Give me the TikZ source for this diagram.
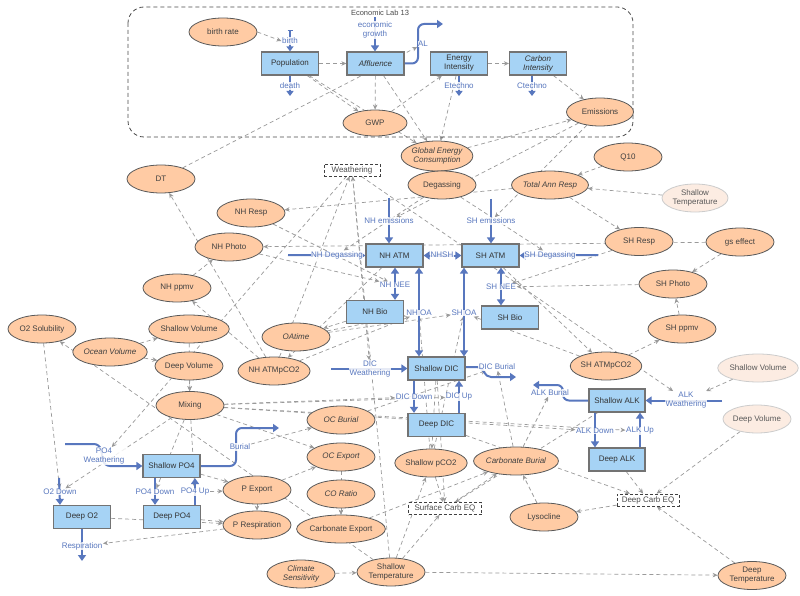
\documentclass[tikz,border=0pt]{standalone}
\usepackage{fontspec}
\setmainfont{Liberation Sans}
\usetikzlibrary{shapes.geometric,arrows.meta,calc}
\definecolor{peach}{HTML}{FFCBA4}
\definecolor{boxblue}{HTML}{A6D3F5}
\definecolor{flowblue}{HTML}{5877BE}
\definecolor{dgrey}{HTML}{9A9A9A}
\definecolor{fadefill}{HTML}{FCECE2}
\pgfdeclarelayer{bg}
\pgfdeclarelayer{mid}
\pgfsetlayers{bg,mid,main}
\tikzset{
 var/.style={ellipse, draw=black!65, fill=peach, minimum width=68pt, minimum height=28pt, inner sep=0pt,
   font=\fontsize{8}{9}\selectfont, text=black!75, align=center, line width=0.8pt},
 itvar/.style={var, font=\fontsize{8}{9}\selectfont\itshape},
 fadevar/.style={var, draw=black!20, fill=fadefill, text=black!65},
 stock/.style={rectangle, draw=black!55, fill=boxblue, minimum width=57pt, minimum height=23pt, inner sep=0pt,
   font=\fontsize{8}{9}\selectfont, text=black!80, line width=1.2pt, align=center},
 ghost/.style={rectangle, draw=black!75, dash pattern=on 3pt off 2pt, fill=white, inner sep=0pt, minimum height=12pt,
   font=\fontsize{8}{9}\selectfont, text=black!70, line width=0.8pt},
 link/.style={draw=dgrey, dash pattern=on 4pt off 3pt, line width=0.7pt, -{Stealth[length=5pt,width=4.5pt]}},
 flow/.style={draw=flowblue, line width=2pt, -{Triangle[length=6pt,width=8pt]}},
 tflow/.style={draw=flowblue, line width=1.5pt, -{Triangle[length=5pt,width=7pt]}},
 dflow/.style={draw=flowblue, line width=2pt, {Triangle[length=6pt,width=8pt]}-{Triangle[length=6pt,width=8pt]}},
 flabel/.style={text=flowblue, font=\fontsize{8}{9}\selectfont, fill=white, fill opacity=0.85, text opacity=1,
   inner sep=0.6pt, align=center},
}
\begin{document}
\begin{tikzpicture}[x=1pt,y=-1pt]
\useasboundingbox (0,0) rectangle (800,596);
\begin{pgfonlayer}{bg}
\fill[white] (0,0) rectangle (800,596);
\end{pgfonlayer}
% economic sub-model frame
\draw[draw=black!70, dash pattern=on 4pt off 3pt, line width=0.8pt, rounded corners=16pt] (128,7) rectangle (633,137);
\node[font=\fontsize{7.5}{8}\selectfont, fill=white, inner sep=1pt, text=black!70] (econlab) at (380,13) {Economic Lab 13};

% ---------- nodes ----------
\node[var] (br) at (223,32) {birth rate};
\node[stock] (pop) at (290,63.5) {Population};
\node[stock, font=\fontsize{8}{9}\selectfont\itshape] (aff) at (375.5,63.5) {Affluence};
\node[stock] (ei) at (459,63.5) {Energy\\Intensity};
\node[stock, font=\fontsize{8}{9}\selectfont\itshape] (ci) at (538,63.5) {Carbon\\Intensity};
\node[var, minimum width=64pt, minimum height=26pt] (gwp) at (375,123) {GWP};
\node[var, minimum width=67pt] (em) at (600,112) {Emissions};
\node[itvar, minimum width=70pt, minimum height=30pt] (gec) at (437,156) {Global Energy\\Consumption};
\node[var] (deg) at (442,185) {Degassing};
\node[itvar, minimum width=70pt] (tar) at (550,185) {Total Ann Resp};
\node[var] (q10) at (628,157) {Q10};
\node[fadevar, minimum width=66pt] (stT) at (695,198) {Shallow\\Temperature};
\node[ghost, minimum width=56pt] (wea) at (352,170) {Weathering};
\node[var] (dt) at (161,179) {DT};
\node[var] (nhr) at (251,213) {NH Resp};
\node[var] (nhp) at (229,247) {NH Photo};
\node[stock] (nhatm) at (394.5,255.5) {NH ATM};
\node[stock] (shatm) at (490.5,255.5) {SH ATM};
\node[stock] (nhbio) at (375,312) {NH Bio};
\node[stock] (shbio) at (510,317.5) {SH Bio};
\node[stock] (sdic) at (436.5,368.5) {Shallow DIC};
\node[stock] (ddic) at (436.5,425) {Deep DIC};
\node[stock, minimum width=56pt] (salk) at (617,400.5) {Shallow ALK};
\node[stock, minimum width=56pt] (dalk) at (617,459.5) {Deep ALK};
\node[fadevar] (svR) at (758,368) {Shallow Volume};
\node[fadevar] (dvR) at (757,419) {Deep Volume};
\node[ghost, minimum width=62pt] (dceq) at (648,500) {Deep Carb EQ};
\node[var] (dtemp) at (752,575.5) {Deep\\Temperature};
\node[var] (lyso) at (544,517) {Lysocline};
\node[itvar] (cb) at (516,461) {Carbonate Burial};
\node[var] (spco2) at (431,463) {Shallow pCO2};
\node[ghost, minimum width=73pt] (sceq) at (445,508.5) {Surface Carb EQ};
\node[var] (stemp) at (391,572) {Shallow\\Temperature};
\node[itvar] (cs) at (301,574) {Climate\\Sensitivity};
\node[var] (cex) at (341,529) {Carbonate Export};
\node[itvar] (cor) at (341,494) {CO Ratio};
\node[itvar] (ocex) at (341,457) {OC Export};
\node[itvar] (ocb) at (341,420) {OC Burial};
\node[var] (pex) at (257,490) {P Export};
\node[var] (pres) at (257,525) {P Respiration};
\node[stock] (spo4) at (171.5,466) {Shallow PO4};
\node[stock] (dpo4) at (172,517) {Deep PO4};
\node[stock] (do2) at (82,517) {Deep O2};
\node[var] (mix) at (190,405.5) {Mixing};
\node[var] (o2s) at (42,329) {O2 Solubility};
\node[itvar] (ov) at (110,352) {Ocean Volume};
\node[var] (svL) at (189,329) {Shallow Volume};
\node[var] (dvL) at (189,366) {Deep Volume};
\node[var] (nhppmv) at (177,288) {NH ppmv};
\node[var] (nhpco2) at (274,371) {NH ATMpCO2};
\node[itvar] (oat) at (296,337) {OAtime};
\node[var] (shr) at (639,241.5) {SH Resp};
\node[var] (gse) at (740,242) {gs effect};
\node[var] (shp) at (673,284) {SH Photo};
\node[var] (shppmv) at (682,329) {SH ppmv};
\node[var] (shpco2) at (606,366) {SH ATMpCO2};

% ---------- flow labels ----------
\node[flabel] (birth) at (290,41) {birth};
\node[flabel] (death) at (290,86) {death};
\node[flabel] (egr) at (375,30) {economic\\growth};
\node[flabel] (al) at (423,44) {AL};
\node[flabel] (etech) at (459,86) {Etechno};
\node[flabel] (ctech) at (532,86) {Ctechno};
\node[flabel] (nhemi) at (389,221) {NH emissions};
\node[flabel] (shemi) at (491,221) {SH emissions};
\node[flabel] (nhdeg) at (337,255) {NH Degassing};
\node[flabel] (shdeg) at (550,255) {SH Degassing};
\node[flabel] (nhsh) at (442,255) {NHSH};
\node[flabel] (nhnee) at (395,285) {NH NEE};
\node[flabel] (shnee) at (501,287) {SH NEE};
\node[flabel] (nhoa) at (419,313) {NH OA};
\node[flabel] (shoa) at (464,313) {SH OA};
\node[flabel] (dicw) at (370,369) {DIC\\Weathering};
\node[flabel] (dicb) at (497,367) {DIC Burial};
\node[flabel] (dicd) at (414,397) {DIC Down};
\node[flabel] (dicu) at (459,397) {DIC Up};
\node[flabel] (alkb) at (550,393) {ALK Burial};
\node[flabel] (alkw) at (686,400) {ALK\\Weathering};
\node[flabel] (alkd) at (595,431) {ALK Down};
\node[flabel] (alku) at (640,431) {ALK Up};
\node[flabel] (po4w) at (104,456) {PO4\\Weathering};
\node[flabel] (burial) at (240,447) {Burial};
\node[flabel] (o2d) at (60,492) {O2 Down};
\node[flabel] (resp) at (82,546) {Respiration};
\node[flabel] (po4d) at (155,492) {PO4 Down};
\node[flabel] (po4u) at (195,492) {PO4 Up};

% ---------- flows ----------
\begin{pgfonlayer}{mid}
\draw[tflow, {Bar[width=5pt]}-{Triangle[length=5pt,width=7pt]}] (290,30) -- (birth |- pop.north);
\draw[tflow] (death |- pop.south) -- (290,96);
\draw[flow] (375,17) -- (egr |- aff.north);
\draw[flow, rounded corners=6pt] (aff.east) -- (418,63.5) -- (418,24) -- (443,24);
\draw[tflow] (etech |- ei.south) -- (459,96);
\draw[tflow] (ctech |- ci.south) -- (532,96);
\draw[flow] (389,198) -- (nhemi |- nhatm.north);
\draw[flow] (491,199) -- (shemi |- shatm.north);
\draw[flow] (288,255) -- (nhatm.west);
\draw[flow] (598,255) -- (shatm.east);
\draw[dflow] (nhatm.east) -- (shatm.west);
\draw[dflow] (nhnee |- nhatm.south) -- (nhnee |- nhbio.north);
\draw[dflow] (shnee |- shatm.south) -- (shnee |- shbio.north);
\draw[dflow] (nhoa |- nhatm.south) -- (nhoa |- sdic.north);
\draw[dflow] (shoa |- shatm.south) -- (shoa |- sdic.north);
\draw[flow] (331,368.5) -- (sdic.west);
\draw[flow, rounded corners=5pt] (sdic.east |- dicb) -- (482,367) -- (486,377) -- (516,377);
\draw[flow] (dicd |- sdic.south) -- (dicd |- ddic.north);
\draw[flow] (dicu |- ddic.north) -- (dicu |- sdic.south);
\draw[flow, rounded corners=6pt] (salk.west) -- (563,400.5) -- (563,385) -- (533,385);
\draw[flow] (722,400.5) -- (salk.east);
\draw[flow] (alkd |- salk.south) -- (alkd |- dalk.north);
\draw[flow] (alku |- dalk.north) -- (alku |- salk.south);
\draw[flow, rounded corners=6pt] (65,444) -- (100,444) -- (104,466) -- (spo4.west);
\draw[flow, rounded corners=6pt] (spo4.east) -- (236,466) -- (236,428) -- (279,428);
\draw[flow] (59,478) -- (o2d |- do2.north);
\draw[flow] (do2.south) -- (82,561);
\draw[flow] (po4d |- spo4.south) -- (po4d |- dpo4.north);
\draw[flow] (po4u |- dpo4.north) -- (po4u |- spo4.south);
\end{pgfonlayer}

% ---------- links ----------
\begin{pgfonlayer}{bg}
\draw[link] (br.east) -- (birth.west);
\draw[link] (pop) -- (aff);
\draw[link] (pop) -- (gwp);
\draw[link] (aff) -- (gwp);
\draw[link] (aff) -- (gec);
\draw[link] (pop) -- (gec);
\draw[link] (gwp) -- (ei);
\draw[link] (ei) -- (ci);
\draw[link] (ei) -- (gec);
\draw[link] (ci) -- (em);
\draw[link] (gec) -- (em);
\draw[link] (dt) -- (al);
\draw[link] (em) -- (nhemi);
\draw[link] (em) -- (shemi);
\draw[link] (deg) -- (nhdeg);
\draw[link] (deg) -- (shdeg);
\draw[link] (tar) -- (nhr);
\draw[link] (tar) -- (shr);
\draw[link] (q10) -- (tar);
\draw[link] (stT) -- (tar);
\draw[link] (nhpco2) -- (wea);
\draw[link] (stemp) -- (wea);
\draw[link] (wea) -- (dicw);
\draw[link] (wea) -- (alkw);
\draw[link] (wea) -- (po4w);
\draw[link] (nhppmv) -- (nhp);
\draw[link] (nhpco2) -- (nhppmv);
\draw[link] (nhp) -- (nhnee);
\draw[link] (nhr) -- (nhnee);
\draw[link] (gse) -- (nhp);
\draw[link] (gse) -- (shp);
\draw[link] (nhpco2) -- (nhoa);
\draw[link] (oat) -- (nhoa);
\draw[link] (oat) -- (shoa);
\draw[link] (spco2) -- (nhoa);
\draw[link] (spco2) -- (shoa);
\draw[link] (shpco2) -- (shoa);
\draw[link] (shatm) -- (shpco2);
\draw[link] (nhatm) -- (nhpco2);
\draw[link] (shpco2) -- (shppmv);
\draw[link] (shppmv) -- (shp);
\draw[link] (shp) -- (shnee);
\draw[link] (shr) -- (shnee);
\draw[link] (svR) -- (alkw);
\draw[link] (nhpco2) -- (dt);
\draw[link] (ov) -- (svL);
\draw[link] (ov) -- (dvL);
\draw[link] (stemp) -- (o2s);
\draw[link] (o2s) -- (o2d);
\draw[link] (dvL) -- (mix);
\draw[link] (svL) -- (mix);
\draw[link] (mix) -- (o2d);
\draw[link] (mix) -- (po4d);
\draw[link] (mix) -- (po4u);
\draw[link] (mix) -- (dicd);
\draw[link] (mix) -- (dicu);
\draw[link] (mix) -- (alkd);
\draw[link] (mix) -- (alku);
\draw[link] (spo4) -- (pex);
\draw[link] (po4u) -- (pex);
\draw[link] (dpo4) -- (pres);
\draw[link] (pex) -- (pres);
\draw[link] (pex) -- (ocex);
\draw[link] (burial) -- (ocb);
\draw[link] (cor) -- (cex);
\draw[link] (ocex) -- (cex);
\draw[link] (cs) -- (stemp);
\draw[link] (stemp) -- (dtemp);
\draw[link] (stemp) -- (sceq);
\draw[link] (spco2) -- (sceq);
\draw[link] (salk) -- (sceq);
\draw[link] (sdic) -- (sceq);
\draw[link] (sceq) -- (cb);
\draw[link] (lyso) -- (cb);
\draw[link] (dceq) -- (lyso);
\draw[link] (dvR) -- (dceq);
\draw[link] (dalk) -- (dceq);
\draw[link] (ddic) -- (dceq);
\draw[link] (dtemp) -- (dceq);
\draw[link] (do2) -- (pres);
\draw[link] (pres) -- (resp);
\draw[link] (cb) -- (alkb);
\draw[link] (cb) -- (dicb);
\draw[link] (cex) -- (cb);
\draw[link] (ocb) -- (dicb);
\draw[link] (sdic) -- (spco2);
\draw[link] (nhbio) -- (oat);
\draw[link] (stemp) -- (spco2);
\draw[link] (mix) -- (ocex);
\end{pgfonlayer}
\end{tikzpicture}
\end{document}
